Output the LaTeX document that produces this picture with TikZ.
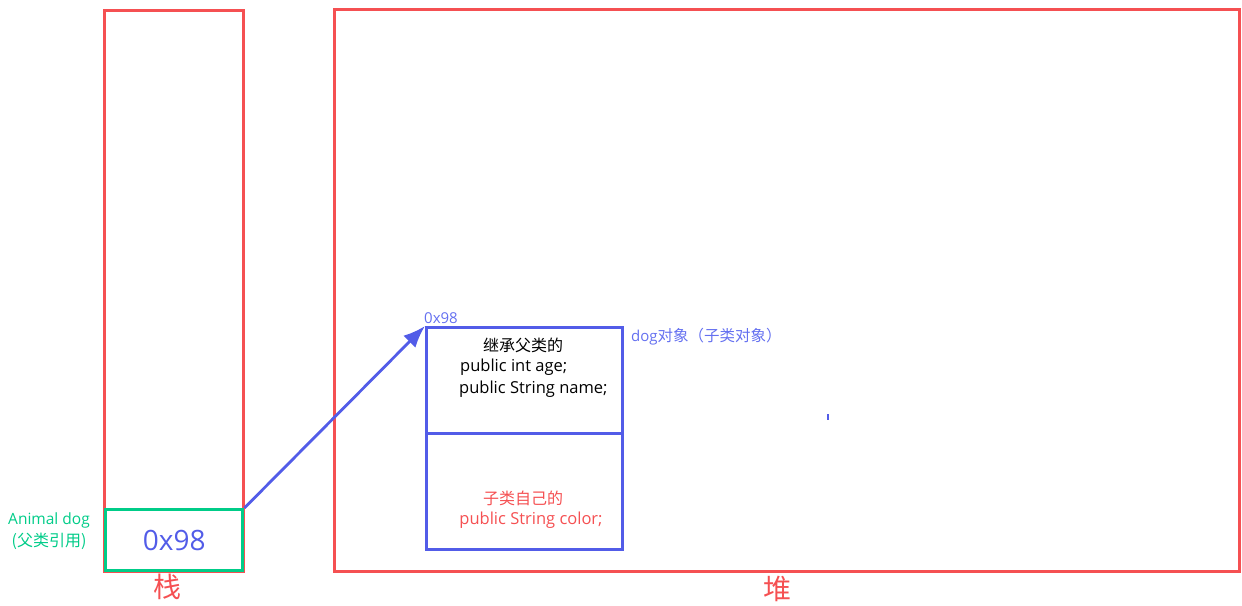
\documentclass[tikz,border=0pt]{standalone}
\usepackage{fontspec}
\setmainfont{Open Sans}
\newfontfamily\cjk{Noto Sans CJK SC}
\usetikzlibrary{arrows.meta}
\definecolor{memred}{RGB}{245,80,82}
\definecolor{refgreen}{RGB}{0,204,136}
\definecolor{objblue}{RGB}{82,92,232}
\definecolor{lblblue}{RGB}{100,112,240}
\begin{document}
\begin{tikzpicture}[
	x=1pt, y=-1pt,
	area/.style={draw=memred, line width=3pt, inner sep=0pt, anchor=north west},
	cell/.style={draw=objblue, line width=3pt, inner sep=0pt, anchor=north west,
		minimum width=196pt},
	txt/.style={inner sep=0pt, font=\fontsize{16.5pt}{18pt}\selectfont},
	han/.style={inner sep=0pt, font=\cjk\fontsize{16pt}{18pt}\selectfont},
	small/.style={inner sep=0pt, font=\fontsize{15.5pt}{17pt}\selectfont}
	]
	\useasboundingbox (0,0) rectangle (1242,605);
	
	% memory areas
	\node[area, minimum width=139pt, minimum height=561pt] (stack) at (103,9) {};
	\node[area, minimum width=905pt, minimum height=562pt] (heap) at (333,8) {};
	\node[text=memred, font=\cjk\fontsize{28pt}{30pt}\selectfont] (stacklbl) at (167,587) {栈};
	\node[text=memred, font=\cjk\fontsize{28pt}{30pt}\selectfont] (heaplbl) at (777,589) {堆};
	
	% reference on the stack
	\node[draw=refgreen, line width=3.4pt, inner sep=0pt, anchor=north west,
		minimum width=137pt, minimum height=61pt, text=objblue,
		font=\fontsize{28pt}{30pt}\selectfont] (ref) at (104,508) {0x98};
	\node[small, text=refgreen] (refname) at (49,520) {Animal dog};
	\node[han, text=refgreen] (reftype) at (49,541) {(父类引用)};
	
	% dog object in the heap
	\node[cell, minimum height=106pt] (objtop) at (425,326) {};
	\node[cell, minimum height=116pt] (objbot) at (425,432) {};
	\node[small, text=lblblue, font=\fontsize{15pt}{17pt}\selectfont, anchor=south west] (addr) at (424,324) {0x98};
	\node[small, text=lblblue, font=\fontsize{15pt}{17pt}\selectfont, anchor=west] (objlbl) at (631,337) {dog{\cjk\fontsize{15.5pt}{17pt}\selectfont 对象（子类对象）}};
	
	\node[han] (inh) at (523,345) {继承父类的};
	\node[txt, anchor=west] (age) at (460,367) {public int age;};
	\node[txt, anchor=west] (name) at (459,389) {public String name;};
	\node[han, text=memred] (own) at (523,498) {子类自己的};
	\node[txt, text=memred] (color) at (531,520) {public String color;};
	
	\fill[objblue] (826.5,414) rectangle (828.5,420);
	
	\draw[objblue, line width=2.8pt, -{Latex[length=22pt, width=17pt]}]
		(ref.north east) -- (objtop.north west);
	
\end{tikzpicture}
\end{document}
